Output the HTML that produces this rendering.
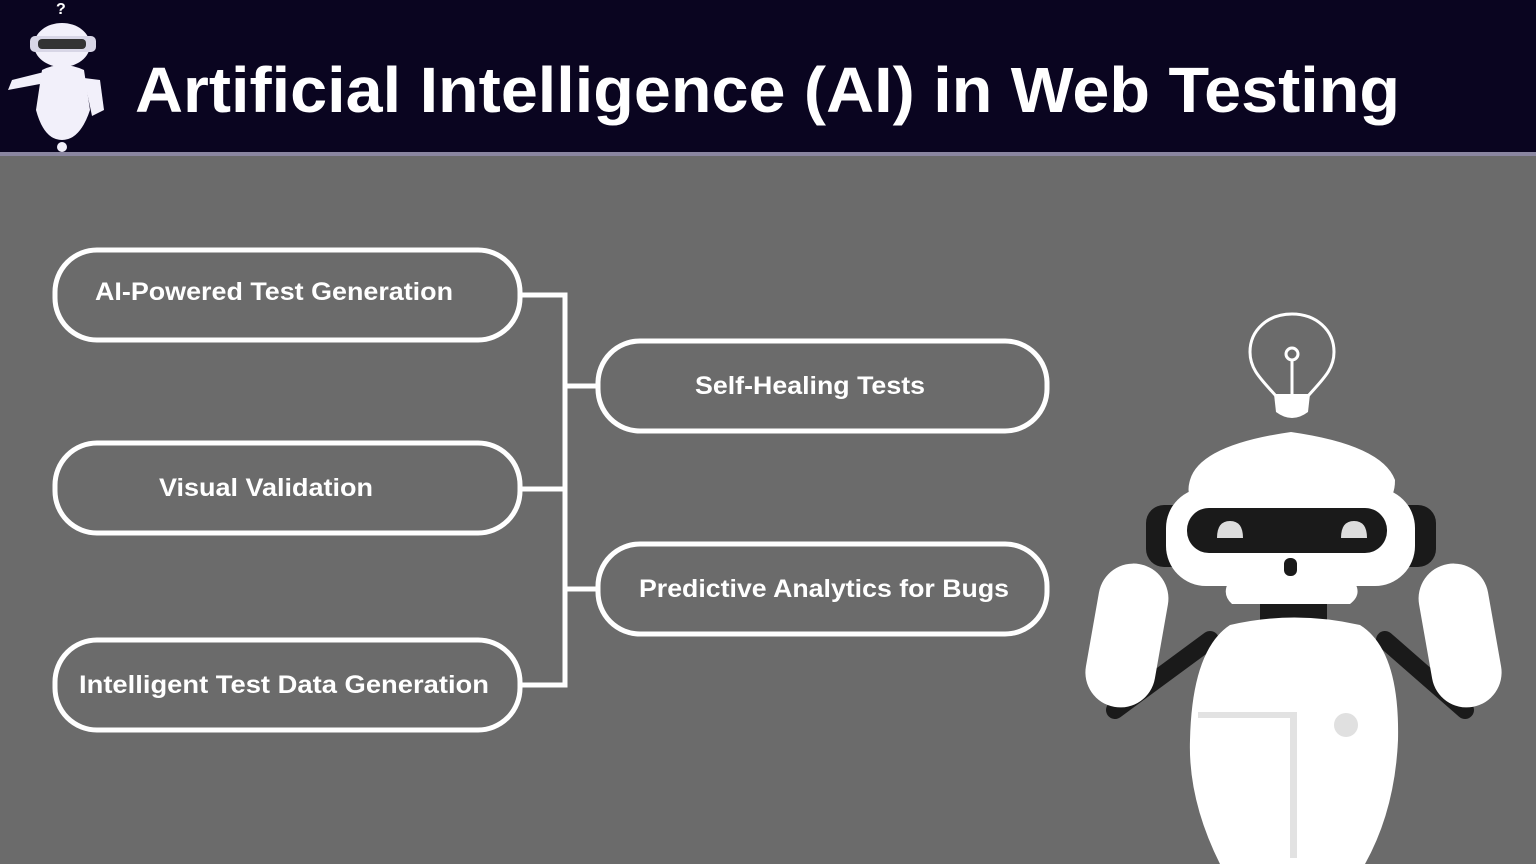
<!DOCTYPE html>
<html><head><meta charset="utf-8"><style>
html,body{margin:0;padding:0;width:1536px;height:864px;overflow:hidden;background:#6b6b6b}
svg{display:block}
text{font-family:"Liberation Sans","DejaVu Sans",sans-serif;font-weight:bold;fill:#fff}
</style></head><body>
<svg width="1536" height="864" viewBox="0 0 1536 864" xmlns="http://www.w3.org/2000/svg">
<rect x="0" y="0" width="1536" height="864" fill="#6b6b6b"/>
<rect x="0" y="0" width="1536" height="152" fill="#0a0520"/>
<rect x="0" y="152" width="1536" height="4" fill="#8a86a0"/>
<g fill="#f2f0fa">
<text x="56" y="14" font-size="16">?</text>
<ellipse cx="62" cy="45" rx="28" ry="22"/>
<rect x="30" y="36" width="66" height="16" rx="5" fill="#d8d6e6"/>
<rect x="38" y="39" width="48" height="10" rx="4" fill="#333"/>
<path d="M42 70 Q62 60 84 70 L90 110 Q80 140 62 140 Q44 140 36 110 Z"/>
<path d="M44 72 L12 80 L8 90 L40 84 Z"/>
<path d="M84 78 L100 80 L104 110 L92 116 Z"/>
<circle cx="62" cy="147" r="5"/>
</g>
<text x="135" y="112" font-size="64" textLength="1265" lengthAdjust="spacingAndGlyphs">Artificial Intelligence (AI) in Web Testing</text>
<g fill="none" stroke="#fff" stroke-width="5">
<rect x="55" y="250" width="465" height="90" rx="42"/>
<rect x="55" y="443" width="465" height="90" rx="42"/>
<rect x="55" y="640" width="465" height="90" rx="42"/>
<rect x="598" y="341" width="449" height="90" rx="42"/>
<rect x="598" y="544" width="449" height="90" rx="42"/>
<path d="M520 295 H565 V685 H520 M520 489 H565 M565 386 H598 M565 589 H598"/>
</g>
<text x="95" y="300" font-size="25" textLength="358" lengthAdjust="spacingAndGlyphs">AI-Powered Test Generation</text>
<text x="159" y="496" font-size="25" textLength="214" lengthAdjust="spacingAndGlyphs">Visual Validation</text>
<text x="79" y="693" font-size="25" textLength="410" lengthAdjust="spacingAndGlyphs">Intelligent Test Data Generation</text>
<text x="695" y="394" font-size="25" textLength="230" lengthAdjust="spacingAndGlyphs">Self-Healing Tests</text>
<text x="639" y="597" font-size="25" textLength="370" lengthAdjust="spacingAndGlyphs">Predictive Analytics for Bugs</text>
<g stroke="#fff" stroke-width="3" fill="none">
<path d="M1276 396 C1262 380 1250 370 1250 352 C1250 330 1268 314 1292 314 C1316 314 1334 330 1334 352 C1334 370 1322 380 1308 396"/>
<circle cx="1292" cy="354" r="6"/>
<line x1="1292" y1="360" x2="1292" y2="395"/>
</g>
<path d="M1274 394 H1310 L1308 412 Q1292 424 1276 412 Z" fill="#fff"/>
<g>
<line x1="1115" y1="710" x2="1210" y2="640" stroke="#1a1a1a" stroke-width="18" stroke-linecap="round"/>
<line x1="1465" y1="710" x2="1385" y2="640" stroke="#1a1a1a" stroke-width="18" stroke-linecap="round"/>
<rect x="1092" y="563" width="70" height="145" rx="35" fill="#fff" transform="rotate(10 1127 635)"/>
<rect x="1425" y="563" width="70" height="145" rx="35" fill="#fff" transform="rotate(-10 1460 635)"/>
<rect x="1260" y="600" width="67" height="50" fill="#1a1a1a"/>
<path d="M1230 625 Q1294 610 1360 625 Q1400 650 1398 740 Q1395 810 1365 864 H1220 Q1188 800 1190 740 Q1192 650 1230 625 Z" fill="#fff"/>
<path d="M1198 712 H1297 V858 H1290 V718 H1198 Z" fill="#e2e2e2"/>
<circle cx="1346" cy="725" r="12" fill="#e0e0e0"/>
<rect x="1146" y="505" width="290" height="62" rx="18" fill="#1a1a1a"/>
<path d="M1228 583 H1355 Q1362 595 1350 604 H1232 Q1222 595 1228 583 Z" fill="#fff"/>
<rect x="1166" y="488" width="249" height="98" rx="40" fill="#fff"/>
<path d="M1190 480 Q1200 445 1291 432 Q1382 445 1395 480 Q1395 498 1385 500 H1197 Q1185 498 1190 480 Z" fill="#fff"/>
<rect x="1187" y="508" width="200" height="45" rx="22" fill="#1a1a1a"/>
<path d="M1217 538 Q1217 521 1230 521 Q1243 521 1243 538 Z" fill="#ddd"/>
<path d="M1341 538 Q1341 521 1354 521 Q1367 521 1367 538 Z" fill="#ddd"/>
<rect x="1284" y="558" width="13" height="18" rx="6" fill="#1a1a1a"/>
</g>
</svg>
</body></html>
